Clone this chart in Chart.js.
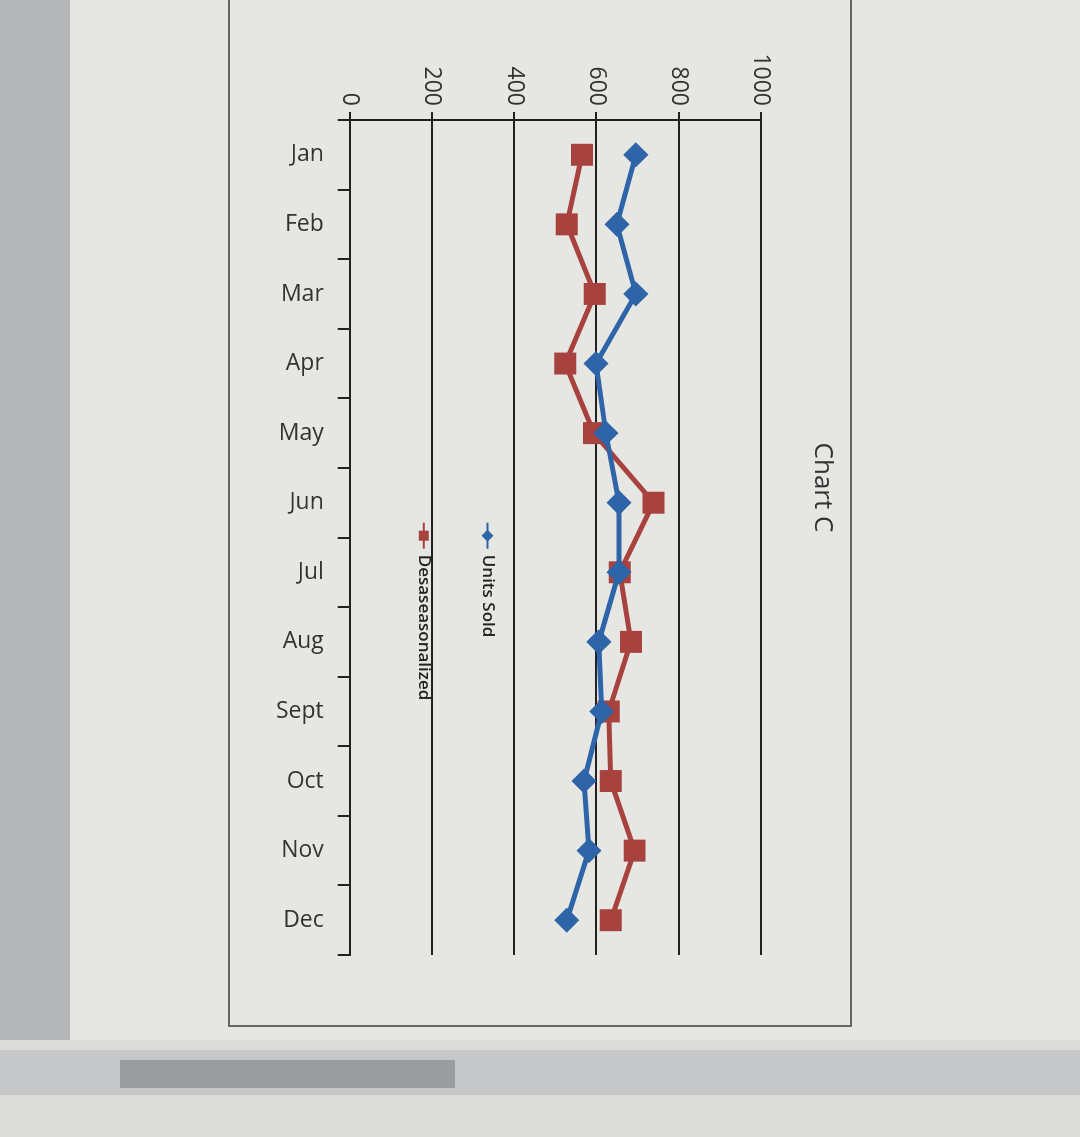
<!DOCTYPE html>
<html>
<head>
<meta charset="utf-8">
<script src="https://cdn.jsdelivr.net/npm/chart.js@4.4.1/dist/chart.umd.min.js"></script>
<style>
  body { margin: 0; width: 1080px; height: 1137px; background: #dcdcd8; position: relative; overflow: hidden; font-family: "Open Sans", sans-serif; }
  #strip { position: absolute; left: 0; top: 0; width: 70px; height: 1040px; background: #b4b6b8; }
  #page { position: absolute; left: 70px; top: 0; width: 1010px; height: 1040px; background: #e6e6e3; }
  #frame { position: absolute; left: 228px; top: -5px; width: 620px; height: 1028px; border: 2px solid #666; }
  #bar { position: absolute; left: 120px; top: 1060px; width: 335px; height: 28px; background: #9a9c9e; }
  #track { position: absolute; left: 0; top: 1050px; width: 1080px; height: 45px; background: #c6c7c8; }
  #wrap { position: absolute; left: 45px; top: 205px; width: 1000px; height: 610px; transform: rotate(90deg); }
</style>
</head>
<body>
<div id="strip"></div>
<div id="page"></div>
<div id="track"></div>
<div id="bar"></div>
<div id="frame"></div>
<div id="wrap"><canvas id="chart" width="1000" height="610"></canvas></div>
<script>
  const months = ['Jan', 'Feb', 'Mar', 'Apr', 'May', 'Jun', 'Jul', 'Aug', 'Sept', 'Oct', 'Nov', 'Dec'];
  const unitsSold = [696, 650, 696, 599, 623, 655, 655, 606, 613, 570, 582, 528];
  const deseasonalized = [565, 528, 596, 524, 594, 739, 657, 684, 630, 635, 693, 635];
  const yTicks = [0, 200, 400, 600, 800, 1000];

  // legend sits inside the plot, as in the original
  const innerLegend = {
    id: 'innerLegend',
    afterDatasetsDraw(chart) {
      const { ctx, scales } = chart;
      const x0 = scales.x.getPixelForValue(5) + 20;
      const items = [['Units Sold', '#2e64a8', 'diamond', 335], ['Desaseasonalized', '#a8423e', 'square', 180]];
      ctx.save();
      ctx.font = '600 17px "Open Sans"';
      ctx.textBaseline = 'middle';
      items.forEach(([label, color, shape, v]) => {
        const y = scales.y.getPixelForValue(v);
        ctx.strokeStyle = color; ctx.lineWidth = 2;
        ctx.beginPath(); ctx.moveTo(x0, y); ctx.lineTo(x0 + 26, y); ctx.stroke();
        ctx.fillStyle = color;
        if (shape === 'square') ctx.fillRect(x0 + 8, y - 5, 10, 10);
        else { ctx.beginPath(); ctx.moveTo(x0 + 13, y - 6); ctx.lineTo(x0 + 19, y); ctx.lineTo(x0 + 13, y + 6); ctx.lineTo(x0 + 7, y); ctx.fill(); }
        ctx.fillStyle = '#222';
        ctx.fillText(label, x0 + 32, y);
      });
      ctx.restore();
    }
  };

  new Chart(document.getElementById('chart'), {
    type: 'line',
    data: {
      labels: months,
      datasets: [
        { label: 'Units Sold', data: unitsSold, borderColor: '#2e64a8', backgroundColor: '#2e64a8', borderWidth: 5, pointStyle: 'rectRot', pointRadius: 9, tension: 0 },
        { label: 'Desaseasonalized', data: deseasonalized, borderColor: '#a8423e', backgroundColor: '#a8423e', borderWidth: 5, pointStyle: 'rect', pointRadius: 12, tension: 0 }
      ]
    },
    options: {
      responsive: false,
      animation: false,
      layout: { padding: { left: 10, right: 55, top: 0, bottom: 22 } },
      plugins: {
        legend: { display: false },
        tooltip: { enabled: false },
        title: { display: true, text: 'Chart C', color: '#333', font: { size: 26, family: 'Open Sans', weight: 'normal' }, padding: { top: 12, bottom: 46 } }
      },
      scales: {
        x: {
          offset: true,
          grid: { offset: true, drawOnChartArea: false, color: '#222', tickLength: 12, lineWidth: 2 },
          border: { color: '#222', width: 2 },
          ticks: { color: '#333', font: { size: 23, family: 'Open Sans' }, maxRotation: 90, minRotation: 90, padding: 14 }
        },
        y: {
          min: 0, max: 1000,
          afterFit(s) { s.width = 100; },
          afterBuildTicks(s) { s.ticks = yTicks.map(v => ({ value: v })); },
          grid: { color: '#222', lineWidth: 2, tickLength: 8 },
          border: { color: '#222', width: 2 },
          ticks: { color: '#333', font: { size: 23, family: 'Open Sans' }, maxRotation: 0, minRotation: 0, padding: 6, callback: v => String(v) }
        }
      }
    },
    plugins: [innerLegend]
  });
</script>
</body>
</html>
